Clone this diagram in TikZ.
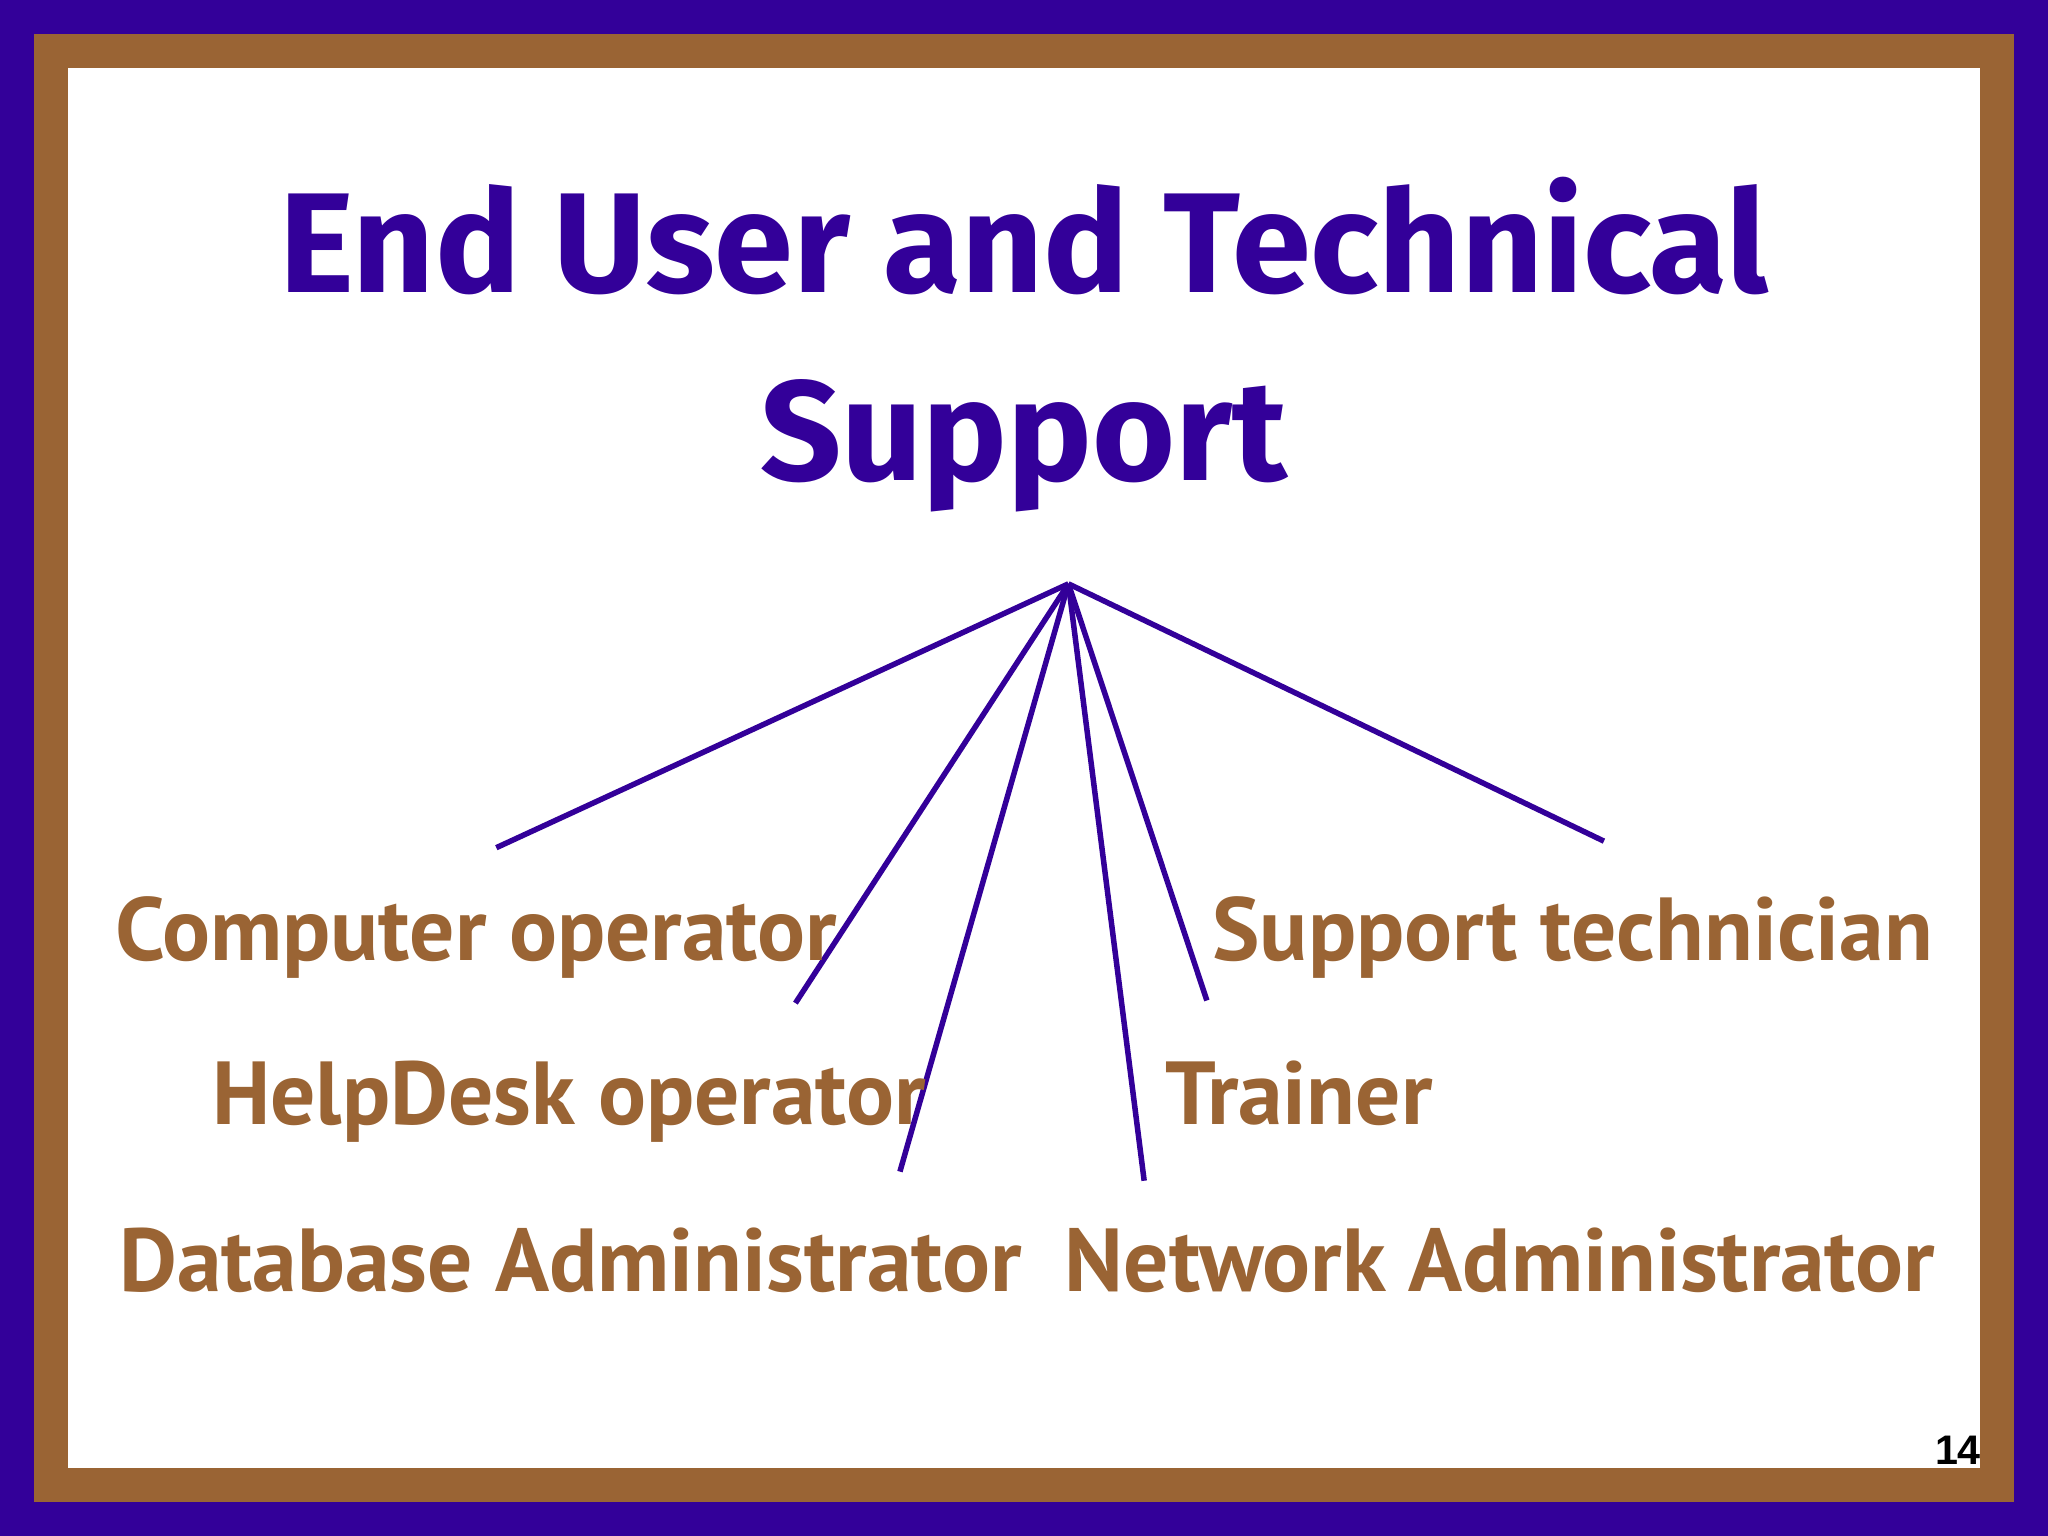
\documentclass[tikz,border=0pt]{standalone}
\usepackage{fontspec}
\setmainfont{Fira Sans}
\newfontfamily\ptsans{PT Sans}
\newfontfamily\arialf{Liberation Sans}
\definecolor{purp}{HTML}{330099}
\definecolor{brn}{HTML}{9A6434}
\begin{document}
\begin{tikzpicture}[x=0.02cm,y=-0.02cm,
  lbl/.style={anchor=base west,inner sep=0,text=brn,font=\ptsans\fontsize{39}{40}\selectfont\bfseries},
  ttl/.style={anchor=base,inner sep=0,text=purp,font=\fontsize{62}{64}\selectfont\bfseries},
  con/.style={draw=purp,line width=2.4pt}]
\fill[purp] (0,0) rectangle (1568,1176);
\fill[brn] (26,26) rectangle (1542,1150);
\fill[white] (52,52) rectangle (1516,1124);
\useasboundingbox (0,0) rectangle (1568,1176);
\node[ttl] (t1) at (784,224) {End User and Technical};
\node[ttl] (t2) at (784,368) {Support};
\coordinate (apex) at (818,447);
\coordinate (e1) at (380,649);
\coordinate (e2) at (609,768);
\coordinate (e3) at (689,897);
\coordinate (e4) at (876,904);
\coordinate (e5) at (924,766);
\coordinate (e6) at (1228,644);
\foreach \e in {e1,e2,e3,e4,e5,e6} \draw[con] (apex) -- (\e);
\node[lbl] (a) at (88,735) {Computer operator};
\node[lbl] (b) at (162,861) {HelpDesk operator};
\node[lbl] (c) at (91,989) {Database Administrator};
\node[lbl] (d) at (928,735) {Support technician};
\node[lbl] (e) at (892,861) {Trainer};
\node[lbl] (f) at (815,989) {Network Administrator};
\node[anchor=base east,inner sep=0,font=\arialf\fontsize{18}{19}\selectfont\bfseries] (n) at (1517,1121) {14};
\end{tikzpicture}
\end{document}
